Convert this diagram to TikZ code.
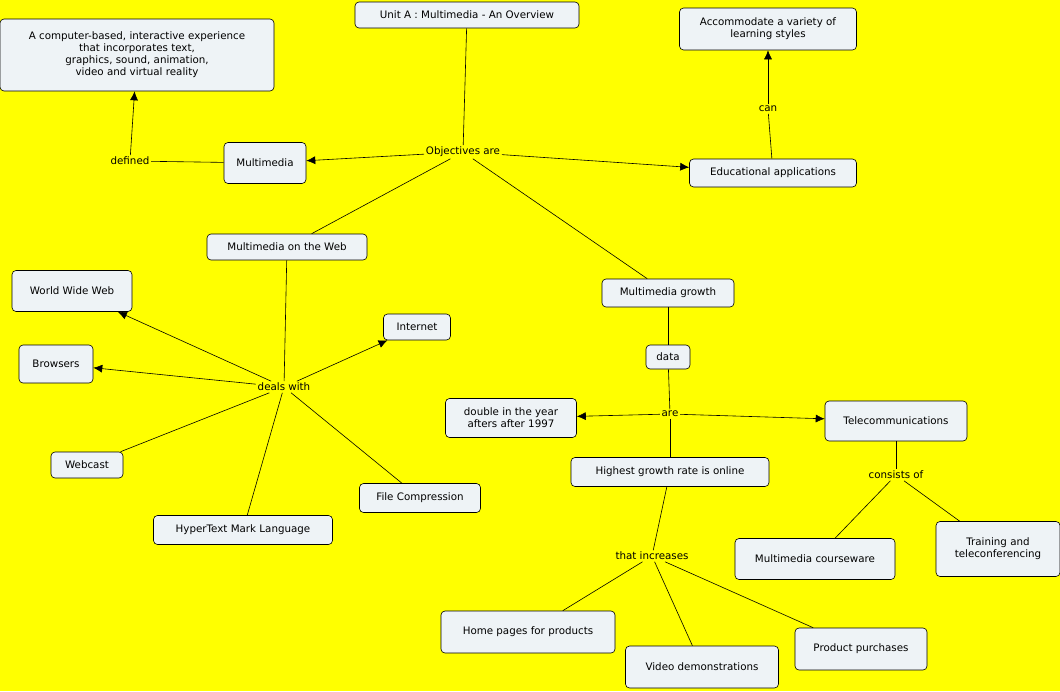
\documentclass[tikz,border=0pt]{standalone}
\usepackage{fontspec}
\setmainfont{DejaVu Sans}
\usetikzlibrary{positioning,arrows.meta}
\definecolor{cmapbg}{HTML}{FFFF00}
\definecolor{cmapbox}{HTML}{EEF3F6}
\begin{document}
\begin{tikzpicture}[x=1pt,y=-1pt,>={Latex[length=9pt,width=8pt]},
  concept/.style={draw,rounded corners=4pt,fill=cmapbox,align=center,inner sep=4pt,
    font=\fontsize{10.3}{12}\selectfont},
  phrase/.style={fill=cmapbg,inner sep=1.5pt,font=\fontsize{10.3}{12}\selectfont},
  every path/.style={line width=0.6pt}]
   \fill[cmapbg] (0,0) rectangle (1060,691);
   \useasboundingbox (0,0) rectangle (1060,691);
   \node[concept,minimum width=224pt,minimum height=26pt] (unit)  at (467,15)  {Unit A : Multimedia - An Overview};
   \node[concept,minimum width=274pt,minimum height=72pt] (def)   at (137,55)  {A computer-based, interactive experience\\that incorporates text,\\graphics, sound, animation,\\video and virtual reality};
   \node[concept,minimum width=177pt,minimum height=42pt] (acc)   at (768,29)  {Accommodate a variety of\\learning styles};
   \node[phrase]  (obj)   at (463,152) {Objectives are};
   \node[concept,minimum width=82pt,minimum height=41pt]  (mm)    at (265,163) {Multimedia};
   \node[phrase]  (defd)  at (130,161) {defined};
   \node[phrase]  (can)   at (768,109) {can};
   \node[concept,minimum width=167pt,minimum height=28pt] (edu)   at (773,173) {Educational applications};
   \node[concept,minimum width=160pt,minimum height=26pt] (web)   at (287,247) {Multimedia on the Web};
   \node[concept,minimum width=132pt,minimum height=28pt] (grow)  at (668,293) {Multimedia growth};
   \node[concept,minimum width=120pt,minimum height=41pt] (www)   at (72,291)  {World Wide Web};
   \node[concept,minimum width=67pt,minimum height=26pt]  (inet)  at (417,327) {Internet};
   \node[concept,minimum width=74pt,minimum height=38pt]  (brow)  at (56,364)  {Browsers};
   \node[phrase]  (deals) at (284,387) {deals with};
   \node[concept,minimum width=44pt,minimum height=24pt]  (data)  at (668,357) {data};
   \node[concept,minimum width=131pt,minimum height=39pt] (dbl)   at (511,418) {double in the year\\afters after 1997};
   \node[phrase]  (are)   at (670,414) {are};
   \node[concept,minimum width=142pt,minimum height=40pt] (tele)  at (896,421) {Telecommunications};
   \node[concept,minimum width=72pt,minimum height=26pt]  (cast)  at (87,465)  {Webcast};
   \node[concept,minimum width=121pt,minimum height=29pt] (comp)  at (420,498) {File Compression};
   \node[concept,minimum width=198pt,minimum height=29pt] (high)  at (670,472) {Highest growth rate is online};
   \node[phrase]  (cons)  at (896,475) {consists of};
   \node[concept,minimum width=179pt,minimum height=29pt] (html)  at (243,530) {HyperText Mark Language};
   \node[concept,minimum width=160pt,minimum height=41pt] (course) at (815,559) {Multimedia courseware};
   \node[concept,minimum width=124pt,minimum height=55pt] (train) at (998,549) {Training and\\teleconferencing};
   \node[phrase]  (incr)  at (652,556) {that increases};
   \node[concept,minimum width=174pt,minimum height=42pt] (home)  at (528,632) {Home pages for products};
   \node[concept,minimum width=153pt,minimum height=42pt] (video) at (702,667) {Video demonstrations};
   \node[concept,minimum width=132pt,minimum height=42pt] (buy)   at (861,649) {Product purchases};
    \path
    (unit)  edge (obj)
    (obj)   edge[->] (mm)
            edge[->] (edu)
            edge (web)
            edge (grow)
    (mm)    edge (defd)
    (defd)  edge[->] (def)
    (edu)   edge (can)
    (can)   edge[->] (acc)
    (web)   edge (deals)
    (deals) edge[->] (www)
            edge[->] (brow)
            edge[->] (inet)
            edge (cast)
            edge (html)
            edge (comp)
    (grow)  edge (data)
    (data)  edge (are)
    (are)   edge[->] (dbl)
            edge[->] (tele)
            edge (high)
    (tele)  edge (cons)
    (cons)  edge (course)
            edge (train)
    (high)  edge (incr)
    (incr)  edge (home)
            edge (video)
            edge (buy);
\end{tikzpicture}
\end{document}
